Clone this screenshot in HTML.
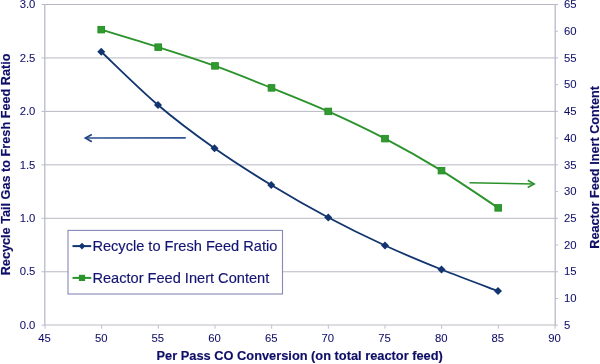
<!DOCTYPE html><html><head><meta charset="utf-8"><title>chart</title><style>html,body{margin:0;padding:0;background:#fff}svg{display:block}text{font-family:"Liberation Sans",sans-serif}.t{fill:#0e0e68;stroke:#0e0e68}.lg{fill:#131372;stroke:#131372}</style></head><body>
<svg width="600" height="364" viewBox="0 0 600 364">
<rect width="600" height="364" fill="#fff"/>
<line x1="45.0" y1="4.50" x2="555.0" y2="4.50" stroke="#b8b8c4" stroke-width="1"/>
<line x1="45.0" y1="57.95" x2="555.0" y2="57.95" stroke="#b8b8c4" stroke-width="1"/>
<line x1="45.0" y1="111.40" x2="555.0" y2="111.40" stroke="#b8b8c4" stroke-width="1"/>
<line x1="45.0" y1="164.85" x2="555.0" y2="164.85" stroke="#b8b8c4" stroke-width="1"/>
<line x1="45.0" y1="218.30" x2="555.0" y2="218.30" stroke="#b8b8c4" stroke-width="1"/>
<line x1="45.0" y1="271.75" x2="555.0" y2="271.75" stroke="#b8b8c4" stroke-width="1"/>
<g stroke="#b3b3c5" stroke-width="1.2" fill="none">
<line x1="44.8" y1="4.5" x2="44.8" y2="325.2"/>
<line x1="555.2" y1="4.5" x2="555.2" y2="325.2"/>
<line x1="45.0" y1="325.0" x2="555.0" y2="325.0" stroke="#bbbbc4" stroke-width="1.05"/>
</g><g stroke="#bcbccc" stroke-width="1" fill="none">
<line x1="41.5" y1="4.50" x2="45.0" y2="4.50"/>
<line x1="41.5" y1="57.95" x2="45.0" y2="57.95"/>
<line x1="41.5" y1="111.40" x2="45.0" y2="111.40"/>
<line x1="41.5" y1="164.85" x2="45.0" y2="164.85"/>
<line x1="41.5" y1="218.30" x2="45.0" y2="218.30"/>
<line x1="41.5" y1="271.75" x2="45.0" y2="271.75"/>
<line x1="41.5" y1="325.20" x2="45.0" y2="325.20"/>
<line x1="555.0" y1="4.50" x2="558.0" y2="4.50"/>
<line x1="555.0" y1="31.22" x2="558.0" y2="31.22"/>
<line x1="555.0" y1="57.95" x2="558.0" y2="57.95"/>
<line x1="555.0" y1="84.67" x2="558.0" y2="84.67"/>
<line x1="555.0" y1="111.40" x2="558.0" y2="111.40"/>
<line x1="555.0" y1="138.12" x2="558.0" y2="138.12"/>
<line x1="555.0" y1="164.85" x2="558.0" y2="164.85"/>
<line x1="555.0" y1="191.58" x2="558.0" y2="191.58"/>
<line x1="555.0" y1="218.30" x2="558.0" y2="218.30"/>
<line x1="555.0" y1="245.02" x2="558.0" y2="245.02"/>
<line x1="555.0" y1="271.75" x2="558.0" y2="271.75"/>
<line x1="555.0" y1="298.47" x2="558.0" y2="298.47"/>
<line x1="555.0" y1="325.20" x2="558.0" y2="325.20"/>
<line x1="45.00" y1="325.2" x2="45.00" y2="328.7"/>
<line x1="101.67" y1="325.2" x2="101.67" y2="328.7"/>
<line x1="158.33" y1="325.2" x2="158.33" y2="328.7"/>
<line x1="215.00" y1="325.2" x2="215.00" y2="328.7"/>
<line x1="271.67" y1="325.2" x2="271.67" y2="328.7"/>
<line x1="328.33" y1="325.2" x2="328.33" y2="328.7"/>
<line x1="385.00" y1="325.2" x2="385.00" y2="328.7"/>
<line x1="441.67" y1="325.2" x2="441.67" y2="328.7"/>
<line x1="498.33" y1="325.2" x2="498.33" y2="328.7"/>
<line x1="555.00" y1="325.2" x2="555.00" y2="328.7"/>
</g>
<g class="t" font-size="11.3" stroke-width="0.05">
<text x="35.4" y="8.20" text-anchor="end">3.0</text>
<text x="35.4" y="61.65" text-anchor="end">2.5</text>
<text x="35.4" y="115.10" text-anchor="end">2.0</text>
<text x="35.4" y="168.55" text-anchor="end">1.5</text>
<text x="35.4" y="222.00" text-anchor="end">1.0</text>
<text x="35.4" y="275.45" text-anchor="end">0.5</text>
<text x="35.4" y="328.90" text-anchor="end">0.0</text>
<text x="564.0" y="8.20">65</text>
<text x="564.0" y="34.92">60</text>
<text x="564.0" y="61.65">55</text>
<text x="564.0" y="88.38">50</text>
<text x="564.0" y="115.10">45</text>
<text x="564.0" y="141.82">40</text>
<text x="564.0" y="168.55">35</text>
<text x="564.0" y="195.28">30</text>
<text x="564.0" y="222.00">25</text>
<text x="564.0" y="248.72">20</text>
<text x="564.0" y="275.45">15</text>
<text x="564.0" y="302.17">10</text>
<text x="564.0" y="328.90">5</text>
<text x="44.50" y="342.1" text-anchor="middle">45</text>
<text x="101.17" y="342.1" text-anchor="middle">50</text>
<text x="157.83" y="342.1" text-anchor="middle">55</text>
<text x="214.50" y="342.1" text-anchor="middle">60</text>
<text x="271.17" y="342.1" text-anchor="middle">65</text>
<text x="327.83" y="342.1" text-anchor="middle">70</text>
<text x="384.50" y="342.1" text-anchor="middle">75</text>
<text x="441.17" y="342.1" text-anchor="middle">80</text>
<text x="497.83" y="342.1" text-anchor="middle">85</text>
<text x="554.50" y="342.1" text-anchor="middle">90</text>
</g>
<g class="t" font-size="12.7" font-weight="bold" stroke-width="0.15">
<text x="299.7" y="360.4" text-anchor="middle" font-size="12.82">Per Pass CO Conversion (on total reactor feed)</text>
<text transform="translate(10.0,164.4) rotate(-90)" text-anchor="middle">Recycle Tail Gas to Fresh Feed Ratio</text>
<text transform="translate(598.8,167.35) rotate(-90)" text-anchor="middle">Reactor Feed Inert Content</text>
</g>
<path d="M101.25,29.65 C110.75,32.57 139.29,41.11 158.25,47.15 C177.21,53.19 196.12,59.11 215.00,65.90 C233.88,72.69 252.62,80.32 271.50,87.90 C290.38,95.48 309.33,102.94 328.25,111.40 C347.17,119.86 366.12,128.78 385.00,138.65 C403.88,148.53 422.62,159.11 441.50,170.65 C460.38,182.19 488.79,201.69 498.25,207.90" fill="none" stroke="#2b932b" stroke-width="1.85" stroke-linejoin="round"/>
<rect x="97.90" y="26.40" width="6.7" height="6.5" fill="#2f9a2f" stroke="#248c24" stroke-width="0.9"/>
<rect x="154.90" y="43.90" width="6.7" height="6.5" fill="#2f9a2f" stroke="#248c24" stroke-width="0.9"/>
<rect x="211.65" y="62.65" width="6.7" height="6.5" fill="#2f9a2f" stroke="#248c24" stroke-width="0.9"/>
<rect x="268.15" y="84.65" width="6.7" height="6.5" fill="#2f9a2f" stroke="#248c24" stroke-width="0.9"/>
<rect x="324.90" y="108.15" width="6.7" height="6.5" fill="#2f9a2f" stroke="#248c24" stroke-width="0.9"/>
<rect x="381.65" y="135.40" width="6.7" height="6.5" fill="#2f9a2f" stroke="#248c24" stroke-width="0.9"/>
<rect x="438.15" y="167.40" width="6.7" height="6.5" fill="#2f9a2f" stroke="#248c24" stroke-width="0.9"/>
<rect x="494.90" y="204.65" width="6.7" height="6.5" fill="#2f9a2f" stroke="#248c24" stroke-width="0.9"/>
<path d="M101.25,51.75 C110.71,60.62 139.12,88.92 158.00,105.00 C176.88,121.08 195.62,134.92 214.50,148.25 C233.38,161.58 252.29,173.46 271.25,185.00 C290.21,196.54 309.29,207.42 328.25,217.50 C347.21,227.58 366.12,236.83 385.00,245.50 C403.88,254.17 422.67,261.92 441.50,269.50 C460.33,277.08 488.58,287.42 498.00,291.00" fill="none" stroke="#12356f" stroke-width="1.85" stroke-linejoin="round"/>
<path d="M101.25,47.75 l4.00,4.00 l-4.00,4.00 l-4.00,-4.00 z" fill="#12356f"/>
<path d="M158.00,101.00 l4.00,4.00 l-4.00,4.00 l-4.00,-4.00 z" fill="#12356f"/>
<path d="M214.50,144.25 l4.00,4.00 l-4.00,4.00 l-4.00,-4.00 z" fill="#12356f"/>
<path d="M271.25,181.00 l4.00,4.00 l-4.00,4.00 l-4.00,-4.00 z" fill="#12356f"/>
<path d="M328.25,213.50 l4.00,4.00 l-4.00,4.00 l-4.00,-4.00 z" fill="#12356f"/>
<path d="M385.00,241.50 l4.00,4.00 l-4.00,4.00 l-4.00,-4.00 z" fill="#12356f"/>
<path d="M441.50,265.50 l4.00,4.00 l-4.00,4.00 l-4.00,-4.00 z" fill="#12356f"/>
<path d="M498.00,287.00 l4.00,4.00 l-4.00,4.00 l-4.00,-4.00 z" fill="#12356f"/>
<g fill="none" stroke="#2f5290" stroke-width="1.7"><path d="M185.75,137.8 L85.6,138"/><path d="M91.8,134.4 L85.4,138 L91.8,141.7" stroke="#24467f"/></g>
<g fill="none" stroke="#2b932b" stroke-width="1.6"><path d="M469.5,182.75 L534,184.05"/><path d="M527.8,180.3 L534.2,184.05 L527.7,187.5"/></g>
<rect x="68" y="230.4" width="214.5" height="63.6" fill="#fff" stroke="#8888b8" stroke-width="1.1"/>
<line x1="72.5" y1="246.1" x2="91.2" y2="246.1" stroke="#12356f" stroke-width="2"/>
<path d="M82.00,242.80 l3.30,3.30 l-3.30,3.30 l-3.30,-3.30 z" fill="#12356f"/>
<line x1="72.5" y1="277.9" x2="91.2" y2="277.9" stroke="#2b932b" stroke-width="2"/>
<rect x="78.9" y="274.8" width="6.2" height="6.2" fill="#2b932b"/>
<g class="lg" font-size="14.6" stroke-width="0.15"><text x="92.4" y="250.9">Recycle to Fresh Feed Ratio</text><text x="92.4" y="282.6">Reactor Feed Inert Content</text></g>
</svg></body></html>
